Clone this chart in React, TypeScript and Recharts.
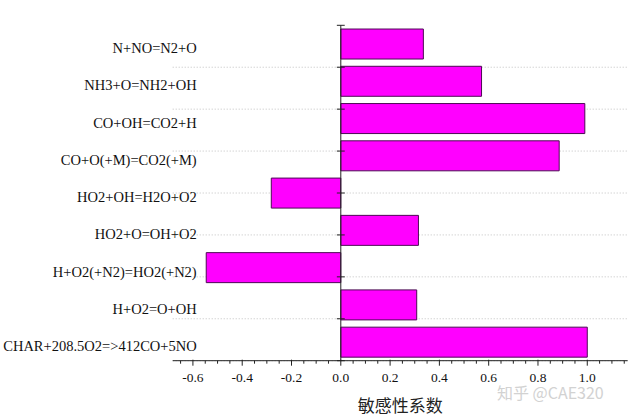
import React from 'react'
import {
  BarChart,
  Bar,
  XAxis,
  YAxis,
  CartesianGrid,
  ReferenceLine,
} from 'recharts'

const reactions = [
  'N+NO=N2+O',
  'NH3+O=NH2+OH',
  'CO+OH=CO2+H',
  'CO+O(+M)=CO2(+M)',
  'HO2+OH=H2O+O2',
  'HO2+O=OH+O2',
  'H+O2(+N2)=HO2(+N2)',
  'H+O2=O+OH',
  'CHAR+208.5O2=>412CO+5NO',
]

const sensitivity = [0.335, 0.571, 0.99, 0.886, -0.282, 0.315, -0.546, 0.308, 1.0]

const majorTicks = [-0.6, -0.4, -0.2, 0, 0.2, 0.4, 0.6, 0.8, 1.0]
const minorTicks = [
  -0.65, -0.55, -0.5, -0.45, -0.35, -0.3, -0.25, -0.15, -0.1, -0.05,
  0.05, 0.1, 0.15, 0.25, 0.3, 0.35, 0.45, 0.5, 0.55, 0.65, 0.7, 0.75,
  0.85, 0.9, 0.95, 1.05, 1.1, 1.15,
]
const boundaries = [0, 1, 2, 3, 4, 5, 6, 7, 8, 9]
const gridRows = [1, 2, 3, 4, 5, 6, 7, 8]

const data = reactions.map((name, i) => ({ name, value: sensitivity[i] }))
const allTicks = [...majorTicks, ...minorTicks].sort((a, b) => a - b)

const serif = '"Liberation Serif", "Times New Roman", serif'

function XTick(props: any) {
  const { x, y, payload } = props
  const v = payload.value
  const major = majorTicks.some((m) => Math.abs(m - v) < 1e-6)
  return (
    <g>
      <line x1={x} x2={x} y1={major ? y - 1 : y} y2={major ? y + 5 : y + 3} stroke="#222" strokeWidth={1} />
      {major && (
        <text x={x} y={y + 17} textAnchor="middle" dy="0.355em" fontFamily={serif} fontSize={13.5} fill="#111">
          {v.toFixed(1)}
        </text>
      )}
    </g>
  )
}

function YTick(props: any) {
  const { x, y, payload } = props
  return (
    <text x={x + 24} y={y + 4} textAnchor="end" dy="0.355em" fontFamily={serif} fontSize={14.5} fill="#111">
      {payload.value}
    </text>
  )
}

export default function App() {
  return (
    <div style={{ position: 'absolute', left: 0, top: 0, width: 640, height: 416, background: '#fff' }}>
      <BarChart
        width={640}
        height={416}
        data={data}
        layout="vertical"
        margin={{ top: 25.3, right: 12.3, bottom: 0, left: 0 }}
        barCategoryGap="10%"
      >
        <CartesianGrid
          yAxisId="grid"
          vertical={false}
          horizontalValues={gridRows}
          stroke="#c0c0c0"
          strokeDasharray="1 2"
        />
        <XAxis
          type="number"
          domain={[-0.682, 1.164]}
          ticks={allTicks}
          interval={0}
          allowDataOverflow
          height={55.3}
          stroke="#222"
          tickLine={false}
          tickSize={0}
          tickMargin={0}
          tick={<XTick />}
          label={{
            value: '敏感性系数',
            position: 'insideBottom',
            offset: 4,
            fontFamily: '"Noto Sans CJK SC", sans-serif',
            fontSize: 17,
            fill: '#222',
          }}
        />
        <YAxis
          type="category"
          dataKey="name"
          width={172.7}
          axisLine={false}
          tickLine={false}
          tickSize={0}
          tickMargin={0}
          interval={0}
          tick={<YTick />}
        />
        <YAxis yAxisId="grid" type="number" domain={[0, 9]} ticks={gridRows} hide />
        <Bar dataKey="value" fill="#FF00FF" stroke="#4d0a55" strokeWidth={1} isAnimationActive={false} />
        <ReferenceLine x={0} stroke="#222" strokeWidth={1} />
        {boundaries.map((b) => (
          <ReferenceLine
            key={b}
            yAxisId="grid"
            segment={[
              { x: -0.016, y: b },
              { x: 0.016, y: b },
            ]}
            stroke="#222"
            strokeWidth={1}
          />
        ))}
      </BarChart>
      <div
        style={{
          position: 'absolute',
          left: 497,
          top: 386,
          lineHeight: '12px',
          fontFamily: '"Noto Sans CJK SC", sans-serif',
          fontSize: 16,
          color: '#d2d2d2',
          whiteSpace: 'nowrap',
        }}
      >
        知乎 @CAE320
      </div>
    </div>
  )
}
